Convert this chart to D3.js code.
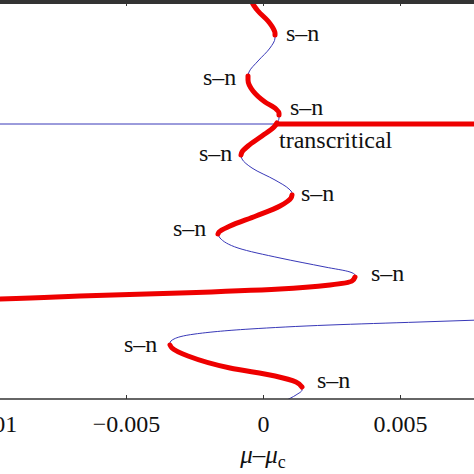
<!DOCTYPE html><html><head><script src="https://cdn.jsdelivr.net/npm/d3@7"></script>
<style>body{margin:0;background:#fff}</style></head><body><svg id="c" width="474" height="474"></svg><script>
// x in mu-mu_c, y in arbitrary state units (0 top .. 397 bottom)
const xTicks=[-0.01,-0.005,0,0.005];
const xTickLabels=["−0.01","−0.005","0","0.005"];
const px=v=>(v-263)/137*0.005;
const seg=(pts)=>pts.map(p=>[px(p[0]),p[1]]);
const branches=[
 {stable:true, pts:seg([[251,-4],[252,0],[258,9],[268,19],[274,28],[275,31],[275,33]])},
 {stable:false,pts:seg([[275,33],[275,36],[270,46],[258,59],[249,70],[248,74]])},
 {stable:true, pts:seg([[248,74],[248,78],[253,89],[265,100],[276,107],[279,111],[279,113]])},
 {stable:false,pts:seg([[279,113],[279,116],[277,121]])},
 {stable:true, pts:seg([[277,121],[274,125],[262,134],[248,144],[242,150],[241,153]])},
 {stable:false,pts:seg([[241,153],[242,157],[252,166],[275,178],[289,187],[292,191],[292,193]])},
 {stable:true, pts:seg([[292,193],[291,196],[280,204],[256,214],[230,224],[219,230],[218,232]])},
 {stable:false,pts:seg([[218,232],[220,236],[238,246],[280,256],[325,265],[350,270],[355,273],[355,275]])},
 {stable:true, pts:seg([[355,275],[352,279],[330,283],[280,287],[180,291],[80,294],[0,297],[-10,297]])},
 {stable:false,pts:seg([[480,318],[420,320],[330,323],[250,327],[195,332],[174,337],[170,341],[170,343]])},
 {stable:true, pts:seg([[170,343],[172,346],[188,354],[230,366],[275,374],[296,380],[302,385]])},
 {stable:false,pts:seg([[302,385],[302,388],[296,393],[285,399],[280,402]])},
 {stable:false,pts:seg([[-15,122],[277,122]])},
 {stable:true, pts:seg([[277,122],[490,122]])}
];
const labels=[
 {t:"s–n",x:px(286),y:39},{t:"s–n",x:px(203),y:83},{t:"s–n",x:px(290),y:113},
 {t:"s–n",x:px(199),y:159},{t:"s–n",x:px(301),y:199},{t:"s–n",x:px(173),y:234},
 {t:"s–n",x:px(371),y:279},{t:"s–n",x:px(124),y:350},{t:"s–n",x:px(317),y:386},
 {t:"transcritical",x:px(279),y:146}
];
const svg=d3.select("#c");
const x=d3.scaleLinear().domain([-0.01,0.005]).range([-11,400]);
const y=d3.scaleLinear().domain([0,397]).range([2,399]);
svg.append("clipPath").attr("id","cl").append("rect").attr("x",0).attr("y",2).attr("width",474).attr("height",397);
const line=d3.line().x(d=>x(d[0])).y(d=>y(d[1])).curve(d3.curveMonotoneY);
const hline=d3.line().x(d=>x(d[0])).y(d=>y(d[1]));
const g=svg.append("g").attr("clip-path","url(#cl)");
const lf=b=>b.pts.length===2?hline(b.pts):line(b.pts);
branches.filter(b=>!b.stable).forEach(b=>g.append("path").attr("d",lf(b)).attr("fill","none").attr("stroke","#3838b8").attr("stroke-width",1));
branches.filter(b=>b.stable).forEach(b=>g.append("path").attr("d",lf(b)).attr("fill","none").attr("stroke","#ee0000").attr("stroke-width",5).attr("stroke-linecap","round"));
const font="'Liberation Serif',serif";
labels.forEach(l=>svg.append("text").attr("x",x(l.x)).attr("y",y(l.y)).text(l.t).attr("font-family",font).attr("font-size",24).attr("fill","#111"));
svg.append("g").attr("transform","translate(0,399)").call(d3.axisBottom(x).tickValues(xTicks).tickFormat((d,i)=>xTickLabels[i]).tickSizeInner(-4).tickSizeOuter(0).tickPadding(16))
 .call(a=>{a.select(".domain").attr("d","M0,0H474").attr("stroke","#333").attr("stroke-width",1.5);a.selectAll("line").attr("stroke","#333");a.selectAll("text").attr("font-family",font).attr("font-size",24).attr("fill","#111");});
svg.append("g").attr("transform","translate(0,2)").call(d3.axisTop(x).tickValues(xTicks).tickFormat("").tickSizeInner(-4).tickSizeOuter(0))
 .call(a=>{a.select(".domain").attr("d","M0,0H474").attr("stroke","#333").attr("stroke-width",4);a.selectAll("line").attr("stroke","#333");});
const t=svg.append("text").attr("x",263).attr("y",463).attr("text-anchor","middle").attr("font-family",font).attr("font-size",25).attr("fill","#111");
t.append("tspan").attr("font-style","italic").text("μ");t.append("tspan").text("–");t.append("tspan").attr("font-style","italic").text("μ");
t.append("tspan").attr("font-size",18).attr("dy",5).text("c");
</script></body></html>
